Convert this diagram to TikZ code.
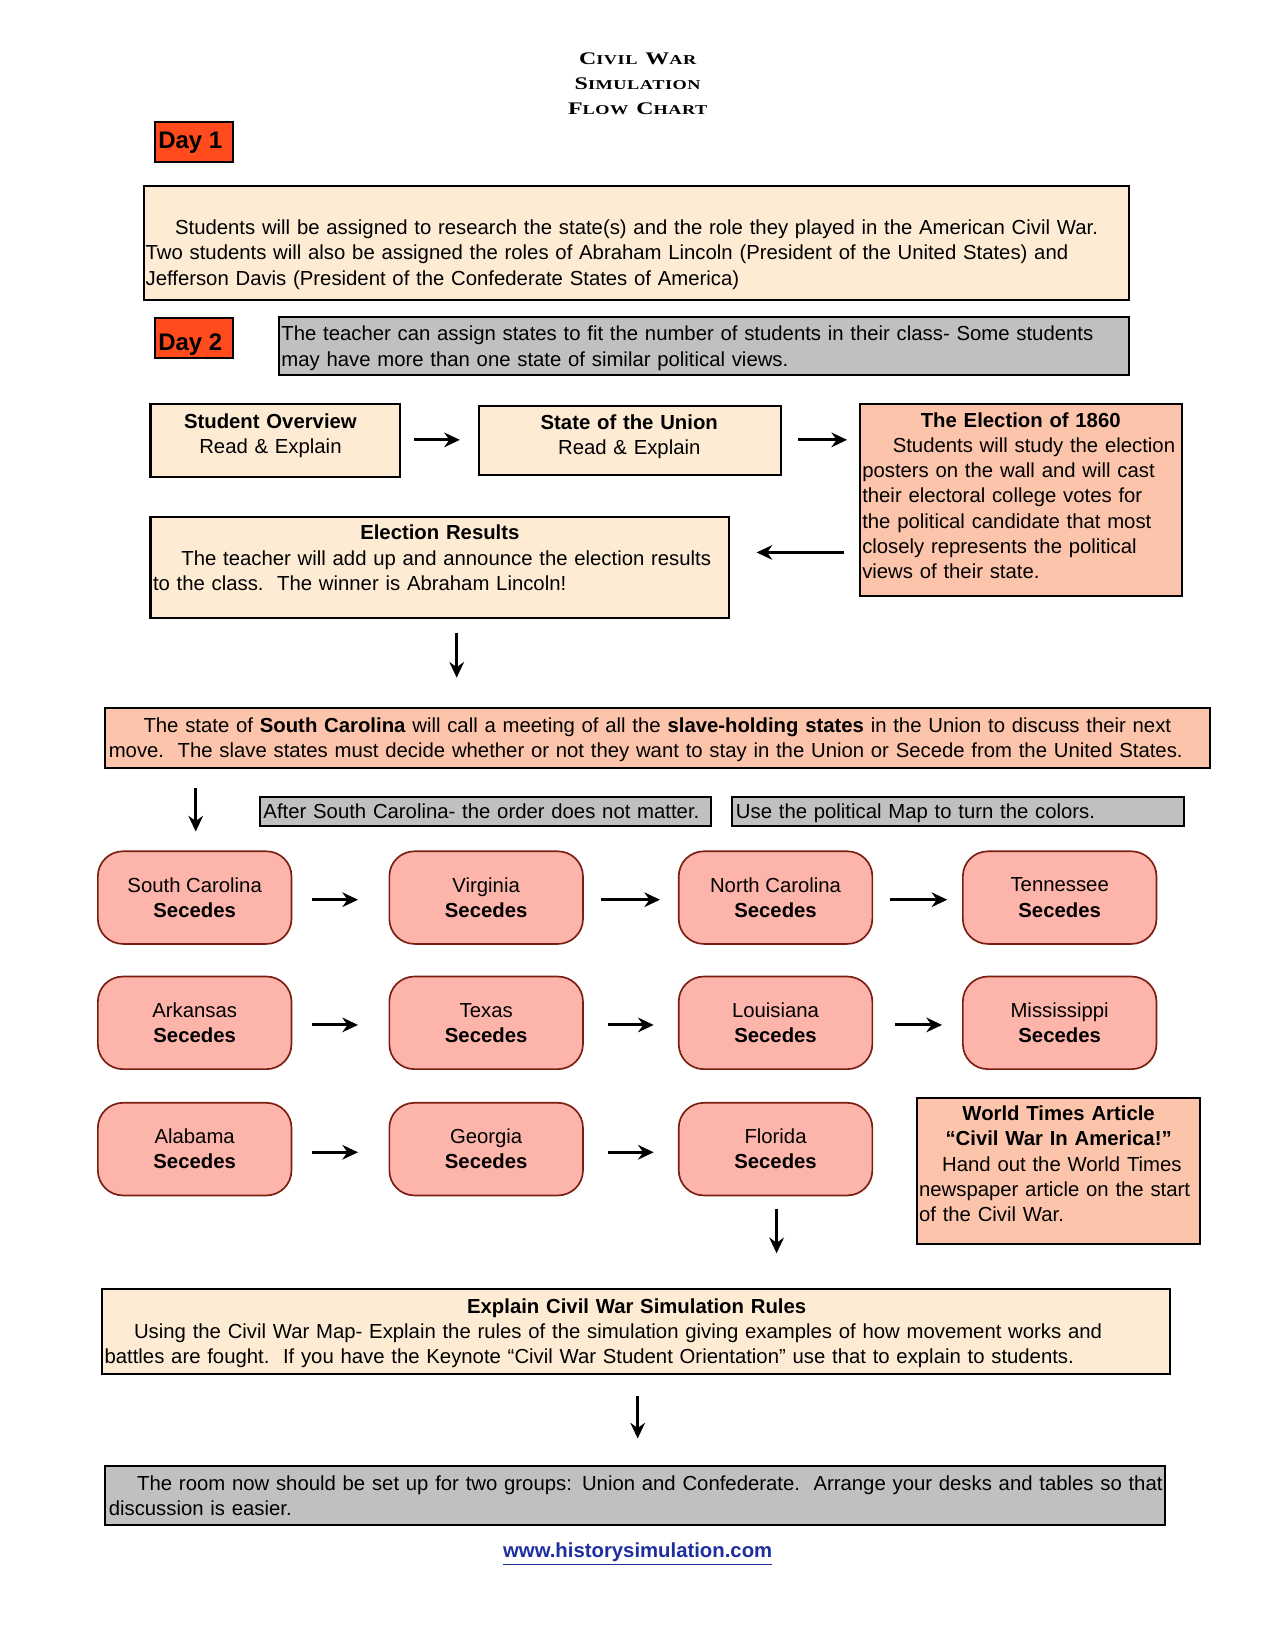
\documentclass[tikz,border=0pt]{standalone}
\usepackage{fontspec}
\setmainfont{Liberation Sans}
\newfontfamily\titlefont[FakeStretch=1.35,LetterSpace=4]{Liberation Serif}
\usetikzlibrary{arrows.meta,fit}
\newdimen\upx \upx=0.505pt
\definecolor{dayred}{HTML}{FF4B1E}
\definecolor{cream}{HTML}{FEEBD4}
\definecolor{salmon}{HTML}{FCC4AA}
\definecolor{greyfill}{HTML}{C0C0C0}
\definecolor{statepink}{HTML}{FDB4AA}
\definecolor{stateborder}{HTML}{7B1E12}
\definecolor{urlblue}{HTML}{1F2E9E}
\newcommand\bodyfont{\fontsize{9.75}{12.1}\selectfont}
\newcommand\dayfont{\fontsize{11.5}{13}\selectfont\bfseries}
\newcommand\tsc[2]{{\fontsize{8.5}{12}\selectfont #1}{\fontsize{6.5}{12}\selectfont #2}}
\newcommand\ind[1]{\hspace*{#1\upx}}
\begin{document}
\begin{tikzpicture}[x=0.505pt,y=-0.505pt,
 panel/.style={draw, line width=1pt, inner sep=0pt},
 creambox/.style={panel, fill=cream},
 salmonbox/.style={panel, fill=salmon},
 greybox/.style={panel, fill=greyfill},
 daybox/.style={panel, fill=dayred},
 state/.style={draw=stateborder, line width=0.8pt, fill=statepink, rounded corners=12pt,
   minimum width=184\upx, minimum height=88\upx, align=center, font=\bodyfont, inner sep=0pt},
 para/.style={inner sep=0pt, anchor=base west, font=\bodyfont, text width=#1\upx, align=left},
 ctxt/.style={inner sep=0pt, anchor=base, font=\bodyfont, text width=600\upx, align=center},
 titletxt/.style={inner sep=0pt, anchor=base, font=\titlefont\bfseries},
 arr/.style={line width=1.4pt, -{Stealth[length=7.5pt,width=7pt]}},
]
\useasboundingbox (0,0) rectangle (1212,1568);

% Title
\node[titletxt] (t1) at (606,61) {\tsc{C}{IVIL} \tsc{W}{AR}};
\node[titletxt] (t2) at (606,85) {\tsc{S}{IMULATION}};
\node[titletxt] (t3) at (606,109) {\tsc{F}{LOW} \tsc{C}{HART}};

% Day 1
\node[daybox, fit={(147,116) (221,154)}] (day1) {};
\node[inner sep=0pt, anchor=base west, font=\dayfont] (day1t) at (150,141) {Day 1};

\node[creambox, fit={(137,177) (1073,285)}] (intro) {};
\node[para=1100] (introt) at (138,223) {\ind{28}Students will be assigned to research the state(s) and the role they played in the American Civil War.\\
Two students will also be assigned the roles of Abraham Lincoln (President of the United States) and\\
Jefferson Davis (President of the Confederate States of America)};

% Day 2
\node[daybox, fit={(147,302) (221,340)}] (day2) {};
\node[inner sep=0pt, anchor=base west, font=\dayfont] (day2t) at (150,333) {Day 2};

\node[greybox, fit={(265,301) (1073,356)}] (note) {};
\node[para=1000] (notet) at (267,324) {The teacher can assign states to fit the number of students in their class- Some students\\
may have more than one state of similar political views.};

% Row of overview boxes
\node[creambox, fit={(143,384) (380,453)}] (ov) {};
\node[ctxt] (ovt) at (257,407) {\textbf{Student Overview}\\Read \& Explain};

\node[creambox, fit={(455,386) (742,451)}] (su) {};
\node[ctxt] (sut) at (598,408) {\textbf{State of the Union}\\Read \& Explain};

\node[salmonbox, fit={(817,384) (1123,566)}] (el) {};
\node[ctxt] (eltt) at (970,406) {\textbf{The Election of 1860}};
\node[para=400] (elt) at (819,430) {\ind{29}Students will study the election\\
posters on the wall and will cast\\
their electoral college votes for\\
the political candidate that most\\
closely represents the political\\
views of their state.};

\node[creambox, fit={(143,491) (693,587)}] (er) {};
\node[ctxt] (ertt) at (418,513) {\textbf{Election Results}};
\node[para=700] (ert) at (145,537) {\ind{27}The teacher will add up and announce the election results\\
to the class.\ \ The winner is Abraham Lincoln!};

% South Carolina meeting
\node[salmonbox, fit={(100,673) (1150,730)}] (scm) {};
\node[para=1200] (scmt) at (103,696) {\ind{33}The state of \textbf{South Carolina} will call a meeting of all the \textbf{slave-holding states} in the Union to discuss their next\\
move.\ \ The slave states must decide whether or not they want to stay in the Union or Secede from the United States.};

\draw[arr, shorten <=12\upx, shorten >=17\upx] (ov.east |- 0,418) -- (su.west |- 0,418);
\draw[arr, shorten <=15\upx, shorten >=11\upx] (su.east |- 0,418) -- (el.west |- 0,418);
\draw[arr, shorten <=14\upx, shorten >=25\upx] (el.west |- 0,525) -- (er.east |- 0,525);
\draw[arr, shorten <=14\upx, shorten >=28\upx] (er.south -| 434,0) -- (scm.north -| 434,0);

\node[greybox, fit={(247,757) (676,785)}] (lab1) {};
\node[para=500] (lab1t) at (250,778) {After South Carolina- the order does not matter.};
\node[greybox, fit={(696,757) (1125,785)}] (lab2) {};
\node[para=500] (lab2t) at (699,778) {Use the political Map to turn the colors.};

% States
\node[state] (sc) at (185,853) {South Carolina\\\textbf{Secedes}};
\node[state] (va) at (462,853) {Virginia\\\textbf{Secedes}};
\node[state] (nc) at (737,853) {North Carolina\\\textbf{Secedes}};
\node[state] (tn) at (1007,853) {Tennessee\\\textbf{Secedes}};
\node[state] (ar) at (185,972) {Arkansas\\\textbf{Secedes}};
\node[state] (tx) at (462,972) {Texas\\\textbf{Secedes}};
\node[state] (la) at (737,972) {Louisiana\\\textbf{Secedes}};
\node[state] (ms) at (1007,972) {Mississippi\\\textbf{Secedes}};
\node[state] (al) at (185,1092) {Alabama\\\textbf{Secedes}};
\node[state] (ga) at (462,1092) {Georgia\\\textbf{Secedes}};
\node[state] (fl) at (737,1092) {Florida\\\textbf{Secedes}};

\draw[arr, shorten <=18\upx, shorten >=18\upx] (scm.south -| 186,0) -- (sc.north -| 186,0);

\draw[arr, shorten <=19\upx, shorten >=29\upx] (sc.east |- 0,855) -- (va.west |- 0,855);
\draw[arr, shorten <=16\upx, shorten >=17\upx] (va.east |- 0,855) -- (nc.west |- 0,855);
\draw[arr, shorten <=16\upx, shorten >=14\upx] (nc.east |- 0,855) -- (tn.west |- 0,855);
\draw[arr, shorten <=19\upx, shorten >=29\upx] (ar.east |- 0,974) -- (tx.west |- 0,974);
\draw[arr, shorten <=23\upx, shorten >=23\upx] (tx.east |- 0,974) -- (la.west |- 0,974);
\draw[arr, shorten <=21\upx, shorten >=19\upx] (la.east |- 0,974) -- (ms.west |- 0,974);
\draw[arr, shorten <=19\upx, shorten >=29\upx] (al.east |- 0,1095) -- (ga.west |- 0,1095);
\draw[arr, shorten <=23\upx, shorten >=23\upx] (ga.east |- 0,1095) -- (fl.west |- 0,1095);

% World Times
\node[salmonbox, fit={(871,1043) (1140,1182)}] (wt) {};
\node[ctxt] (wttt) at (1006,1065) {\textbf{World Times Article}\\\textbf{“Civil War In America!”}};
\node[para=400] (wtt) at (873,1113) {\ind{22}Hand out the World Times\\
newspaper article on the start\\
of the Civil War.};

% Explain rules
\node[creambox, fit={(97,1225) (1112,1306)}] (ex) {};
\node[ctxt] (extt) at (605,1248) {\textbf{Explain Civil War Simulation Rules}};
\node[para=1200] (ext) at (99,1272) {\ind{28}Using the Civil War Map- Explain the rules of the simulation giving examples of how movement works and\\
battles are fought.\ \ If you have the Keynote “Civil War Student Orientation” use that to explain to students.};

\draw[arr, shorten <=12\upx, shorten >=33\upx] (fl.south -| 738,0) -- (ex.north -| 738,0);

% Room setup
\node[greybox, fit={(100,1393) (1107,1449)}] (room) {};
\node[para=1200] (roomt) at (103,1416) {\ind{27}The room now should be set up for two groups: Union and Confederate.\ \ Arrange your desks and tables so that\\
discussion is easier.};

\draw[arr, shorten <=20\upx, shorten >=25\upx] (ex.south -| 606,0) -- (room.north -| 606,0);

% URL
\node[ctxt, text=urlblue] (url) at (606,1480) {\underline{\textbf{www.historysimulation.com}}};
\end{tikzpicture}
\end{document}
